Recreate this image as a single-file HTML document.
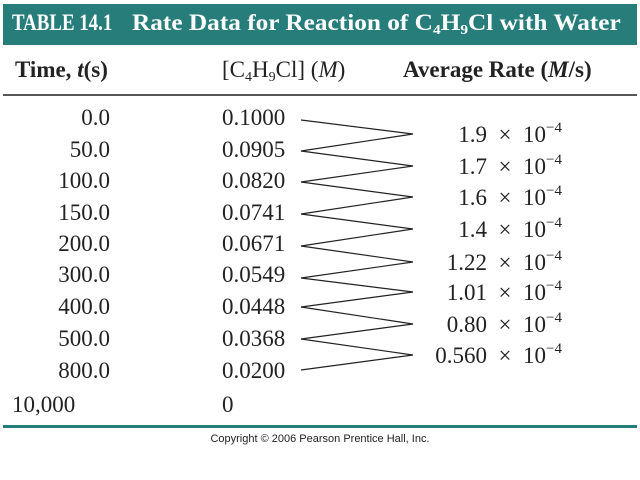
<!DOCTYPE html>
<html><head><style>
body{margin:0;width:640px;height:480px;background:#fff;position:relative;overflow:hidden;font-family:"Liberation Serif",serif;color:#222}
.t{position:absolute;white-space:nowrap;line-height:1}
.band{position:absolute;left:3px;top:4px;width:634px;height:41px;background:#267d7a}
.h{font-size:23px;font-weight:bold;color:#fff;top:11px;transform-origin:0 0}
.c{font-size:23px;font-weight:bold;top:58px}
.r{font-size:23px}
sub{font-size:14px;vertical-align:-4px;line-height:0}
sup{font-size:15px;vertical-align:10px;line-height:0}
</style></head><body>
<div class="band"></div>
<div class="t h" style="left:12px;transform:scaleX(0.82)">TABLE 14.1</div>
<div class="t h" style="left:132px;transform:scaleX(1.1)">Rate Data for Reaction of C<sub>4</sub>H<sub>9</sub>Cl with Water</div>
<div class="t c" style="left:15px">Time, <i>t</i>(s)</div>
<div class="t c" style="left:222px;font-weight:normal">[C<sub>4</sub>H<sub>9</sub>Cl] (<i>M</i>)</div>
<div class="t c" style="left:403px">Average Rate (<i>M</i>/s)</div>
<div style="position:absolute;left:3px;top:94px;width:634px;height:2px;background:#555"></div>
<div style="position:absolute;left:3px;top:425px;width:634px;height:3px;background:#267d7a"></div>
<div class="t r" style="right:530px;top:106px">0.0</div>
<div class="t r" style="right:530px;top:138px">50.0</div>
<div class="t r" style="right:530px;top:169px">100.0</div>
<div class="t r" style="right:530px;top:201px">150.0</div>
<div class="t r" style="right:530px;top:232px">200.0</div>
<div class="t r" style="right:530px;top:263px">300.0</div>
<div class="t r" style="right:530px;top:295px">400.0</div>
<div class="t r" style="right:530px;top:327px">500.0</div>
<div class="t r" style="right:530px;top:359px">800.0</div>
<div class="t r" style="left:12px;top:393px">10,000</div>
<div class="t r" style="left:222px;top:106px">0.1000</div>
<div class="t r" style="left:222px;top:138px">0.0905</div>
<div class="t r" style="left:222px;top:169px">0.0820</div>
<div class="t r" style="left:222px;top:201px">0.0741</div>
<div class="t r" style="left:222px;top:232px">0.0671</div>
<div class="t r" style="left:222px;top:263px">0.0549</div>
<div class="t r" style="left:222px;top:295px">0.0448</div>
<div class="t r" style="left:222px;top:327px">0.0368</div>
<div class="t r" style="left:222px;top:359px">0.0200</div>
<div class="t r" style="left:222px;top:393px">0</div>
<svg style="position:absolute;left:0;top:0" width="640" height="480"><polyline fill="none" stroke="#222" stroke-width="1.2" points="301,120 413,134 301,151 413,166 301,182 413,197 301,214 413,229 301,246 413,262 301,278 413,292 301,307 413,324 301,339 413,355 301,370"/></svg>
<div class="t r" style="right:78px;top:123px">1.9&ensp;×&ensp;10<sup>−4</sup></div>
<div class="t r" style="right:78px;top:155px">1.7&ensp;×&ensp;10<sup>−4</sup></div>
<div class="t r" style="right:78px;top:186px">1.6&ensp;×&ensp;10<sup>−4</sup></div>
<div class="t r" style="right:78px;top:218px">1.4&ensp;×&ensp;10<sup>−4</sup></div>
<div class="t r" style="right:78px;top:251px">1.22&ensp;×&ensp;10<sup>−4</sup></div>
<div class="t r" style="right:78px;top:281px">1.01&ensp;×&ensp;10<sup>−4</sup></div>
<div class="t r" style="right:78px;top:313px">0.80&ensp;×&ensp;10<sup>−4</sup></div>
<div class="t r" style="right:78px;top:344px">0.560&ensp;×&ensp;10<sup>−4</sup></div>
<div class="t" style="left:0;width:640px;text-align:center;top:434px;font-family:'Liberation Sans',sans-serif;font-size:11px">Copyright © 2006 Pearson Prentice Hall, Inc.</div>
</body></html>
